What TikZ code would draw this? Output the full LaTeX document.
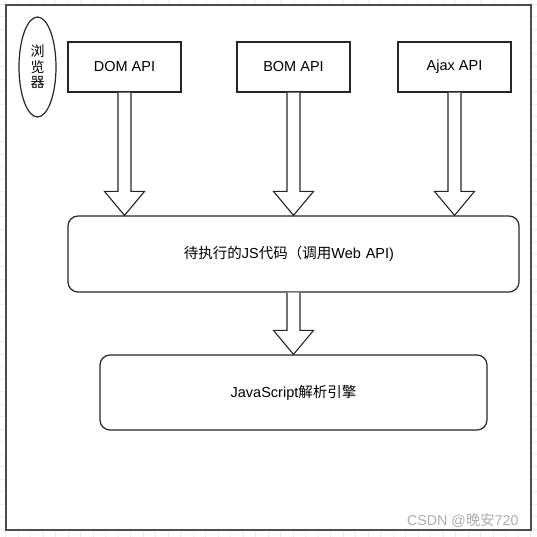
\documentclass[tikz,border=0pt]{standalone}
\usepackage{fontspec}
\setmainfont{Liberation Sans}
\newfontfamily\cjk{Noto Sans CJK SC}
\usetikzlibrary{calc, shapes.geometric}

\tikzset{
  gridline/.style = {draw = black!7, line width = 0.6pt},
  frame/.style = {draw = black!70, fill = white, line width = 1.8pt},
  apibox/.style = {draw = black!85, fill = white, line width = 1.2pt, minimum width = 113pt, minimum height = 50pt, inner sep = 0pt, font = \fontsize{14.5}{17}\selectfont},
  codebox/.style = {apibox, rounded corners = 10pt},
  oval/.style = {draw = black!85, fill = white, line width = 1.2pt, ellipse, minimum width = 37pt, minimum height = 100pt, inner sep = 0pt, align = center, font = \fontsize{14}{15.5}\selectfont\cjk},
  fatarrow/.style = {draw = black!85, fill = white, line width = 1.1pt, line join = miter},
}

% block arrow from the foot of #1 down to the top of #2
\newcommand{\fatarrow}[2]{%
  \draw [fatarrow] ( $ (#1) + ( -6.5, 0 ) $ ) -- ( $ (#1 |- #2) + ( -6.5, -24 ) $ ) -- ++( -13.5, 0 ) -- (#1 |- #2) -- ( $ (#1 |- #2) + ( 20, -24 ) $ ) -- ++( -13.5, 0 ) -- ( $ (#1) + ( 6.5, 0 ) $ );
}

\begin{document}
\begin{tikzpicture}[x = 1pt, y = -1pt]

\useasboundingbox ( 0, 0 ) rectangle ( 537, 537 );

% Background grid
\draw [gridline, shift = {( 5.5, 4 )}] ( -5.5, -4 ) grid [step = 12.5pt] ( 537, 537 );

% Browser frame
\draw [frame] ( 6, 5 ) rectangle ( 531, 530 );
\node (browser) at ( 37.5, 67 ) [oval] {浏\\览\\器};

% Web APIs
\node (dom) at ( 124.5, 67 ) [apibox] {DOM API};
\node (bom) at ( 293.5, 67 ) [apibox] {BOM API};
\node (ajax) at ( 454.5, 67 ) [apibox] {Ajax API};

% Code to run
\node (code) at ( 289, 254 ) [codebox, minimum width = 451pt, minimum height = 76pt, xshift = 4.5pt, text width = 451pt, align = center] {\hspace*{-9pt}{\cjk 待执行的}JS{\cjk 代码（调用}Web API)};

% Engine
\node (engine) at ( 293.5, 392.5 ) [codebox, minimum width = 387pt, minimum height = 75pt] {JavaScript{\cjk 解析引擎}};

% Transitions
\fatarrow{dom.south}{code.north}
\fatarrow{bom.south}{code.north}
\fatarrow{ajax.south}{code.north}
\fatarrow{code.south}{engine.north}

% Watermark
\node (csdn) at ( 522, 520 ) [anchor = east, text = black!32, font = \fontsize{14.3}{16}\selectfont] {CSDN @{\cjk 晚安}720};

\end{tikzpicture}
\end{document}
